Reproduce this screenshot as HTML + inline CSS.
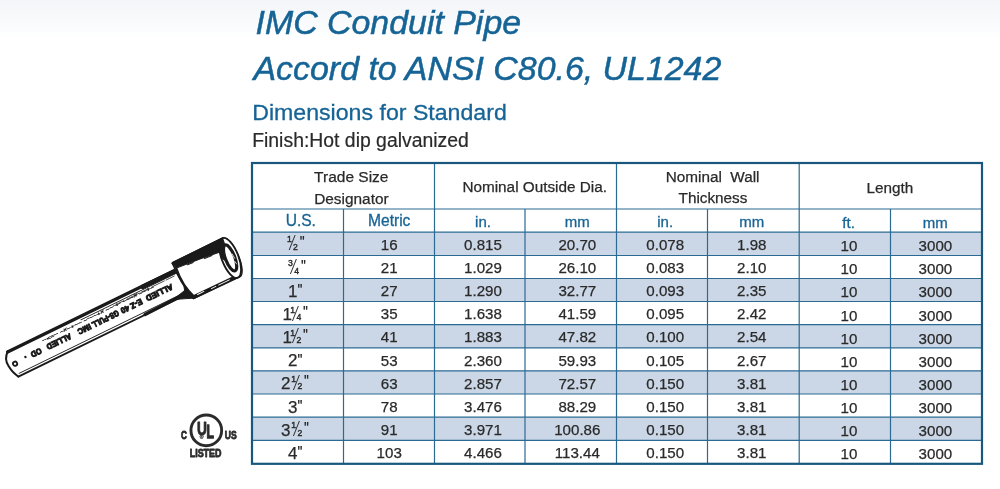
<!DOCTYPE html>
<html lang="en"><head><meta charset="utf-8"><title>IMC Conduit Pipe</title>
<style>
html,body{margin:0;padding:0;background:#fff;}
body{width:1000px;height:489px;overflow:hidden;position:relative;font-family:"Liberation Sans",sans-serif;}
svg{position:absolute;left:0;top:0;display:block}
text{font-family:"Liberation Sans",sans-serif;}
.t1{font-size:33.9px;font-style:italic;fill:#166496;stroke:#166496;stroke-width:0.5px}
.t2{font-size:22.5px;fill:#166496;stroke:#166496;stroke-width:0.3px}
.t3{font-size:19.4px;fill:#2a2a2a;stroke:#2a2a2a;stroke-width:0.2px}
.h{font-size:15.3px;fill:#2a2a2a;text-anchor:middle;stroke:#2a2a2a;stroke-width:0.25px}
.hb{font-size:15px;fill:#166496;text-anchor:middle;stroke:#1a6493;stroke-width:0.3px}
.d{font-size:15.1px;fill:#2a2a2a;text-anchor:middle;stroke:#2a2a2a;stroke-width:0.25px}
.u{font-size:17px;fill:#2a2a2a;stroke:#2a2a2a;stroke-width:0.25px}
.fn{font-size:8.6px;fill:#2a2a2a;stroke:#2a2a2a;stroke-width:0.4px}
.fs{font-size:22.3px;fill:#2a2a2a}
.q{font-size:15.2px;font-weight:bold;fill:#2a2a2a}
</style></head><body>
<svg width="1000" height="489" viewBox="0 0 1000 489">

<defs><linearGradient id="topgrad" x1="0" y1="0" x2="0" y2="1"><stop offset="0" stop-color="#f3f5f8"/><stop offset="0.55" stop-color="#f8fafc"/><stop offset="1" stop-color="#ffffff"/></linearGradient></defs>
<rect x="0" y="0" width="1000" height="38" fill="url(#topgrad)"/>
<text class="t1" x="255.5" y="34.3">IMC Conduit Pipe</text>
<text class="t1" x="253.5" y="80.2">Accord to ANSI C80.6, UL1242</text>
<text class="t2" x="252.2" y="120" textLength="254.6" lengthAdjust="spacingAndGlyphs">Dimensions for Standard</text>
<text class="t3" x="252.2" y="147">Finish:Hot dip galvanized</text>
<rect x="252" y="232.20" width="730" height="23.30" fill="#cbd7e6"/>
<rect x="252" y="278.50" width="730" height="23.00" fill="#cbd7e6"/>
<rect x="252" y="324.60" width="730" height="23.20" fill="#cbd7e6"/>
<rect x="252" y="370.90" width="730" height="23.10" fill="#cbd7e6"/>
<rect x="252" y="417.20" width="730" height="23.10" fill="#cbd7e6"/>
<line x1="252" y1="209.00" x2="982" y2="209.00" stroke="#2a6a93" stroke-width="1.2"/>
<line x1="252" y1="232.20" x2="982" y2="232.20" stroke="#2a6a93" stroke-width="1.2"/>
<line x1="252" y1="255.50" x2="982" y2="255.50" stroke="#2a6a93" stroke-width="1.2"/>
<line x1="252" y1="278.50" x2="982" y2="278.50" stroke="#2a6a93" stroke-width="1.2"/>
<line x1="252" y1="301.50" x2="982" y2="301.50" stroke="#2a6a93" stroke-width="1.2"/>
<line x1="252" y1="324.60" x2="982" y2="324.60" stroke="#2a6a93" stroke-width="1.2"/>
<line x1="252" y1="347.80" x2="982" y2="347.80" stroke="#2a6a93" stroke-width="1.2"/>
<line x1="252" y1="370.90" x2="982" y2="370.90" stroke="#2a6a93" stroke-width="1.2"/>
<line x1="252" y1="394.00" x2="982" y2="394.00" stroke="#2a6a93" stroke-width="1.2"/>
<line x1="252" y1="417.20" x2="982" y2="417.20" stroke="#2a6a93" stroke-width="1.2"/>
<line x1="252" y1="440.30" x2="982" y2="440.30" stroke="#2a6a93" stroke-width="1.2"/>
<line x1="343.5" y1="209.00" x2="343.5" y2="463.80" stroke="#2a6a93" stroke-width="1.2"/>
<line x1="434.5" y1="163.00" x2="434.5" y2="463.80" stroke="#2a6a93" stroke-width="1.2"/>
<line x1="525.0" y1="209.00" x2="525.0" y2="463.80" stroke="#2a6a93" stroke-width="1.2"/>
<line x1="616.5" y1="163.00" x2="616.5" y2="463.80" stroke="#2a6a93" stroke-width="1.2"/>
<line x1="707.5" y1="209.00" x2="707.5" y2="463.80" stroke="#2a6a93" stroke-width="1.2"/>
<line x1="799.2" y1="163.00" x2="799.2" y2="463.80" stroke="#2a6a93" stroke-width="1.2"/>
<line x1="890.5" y1="209.00" x2="890.5" y2="463.80" stroke="#2a6a93" stroke-width="1.2"/>
<rect x="252" y="163" width="730" height="300.80" fill="none" stroke="#18577e" stroke-width="2.2"/>
<text class="h" x="351.3" y="182" style="font-size:15.5px">Trade Size</text>
<text class="h" x="351.4" y="203.5" style="font-size:15.4px">Designator</text>
<text class="h" x="534.7" y="191.7">Nominal Outside Dia.</text>
<text class="h" x="712.6" y="181.5" xml:space="preserve">Nominal  Wall</text>
<text class="h" x="713" y="203">Thickness</text>
<text class="h" x="890" y="193">Length</text>
<text class="hb" style="font-size:15.6px" x="300.8" y="226">U.S.</text>
<text class="hb" style="font-size:15.6px" x="389.2" y="226">Metric</text>
<text class="hb" x="483.0" y="227">in.</text>
<text class="hb" x="577.3" y="227">mm</text>
<text class="hb" x="665.2" y="227">in.</text>
<text class="hb" x="751.8" y="227.4">mm</text>
<text class="hb" x="848.6" y="227.6">ft.</text>
<text class="hb" x="935.2" y="228.2">mm</text>
<text class="fn" x="286.9" y="242.4">1</text><text class="fs" transform="translate(291.50,250.30) scale(0.62,1)">&#x2044;</text><text class="fn" x="293.1" y="250.0">2</text><text class="q" transform="translate(299.45,246.06) scale(0.75,1)">&quot;</text>
<text class="d" x="389.2" y="249.9">16</text>
<text class="d" x="483.0" y="249.9">0.815</text>
<text class="d" x="577.3" y="249.9">20.70</text>
<text class="d" x="665.2" y="249.9">0.078</text>
<text class="d" x="751.8" y="249.9">1.98</text>
<text class="d" x="849.0" y="251.1">10</text>
<text class="d" x="935.4" y="251.1">3000</text>
<text class="fn" x="288.1" y="266.1">3</text><text class="fs" transform="translate(292.70,274.03) scale(0.62,1)">&#x2044;</text><text class="fn" x="294.3" y="273.7">4</text><text class="q" transform="translate(300.65,269.79) scale(0.75,1)">&quot;</text>
<text class="d" x="389.2" y="273.0">21</text>
<text class="d" x="483.0" y="273.0">1.029</text>
<text class="d" x="577.3" y="273.0">26.10</text>
<text class="d" x="665.2" y="273.0">0.083</text>
<text class="d" x="751.8" y="273.0">2.10</text>
<text class="d" x="849.0" y="274.2">10</text>
<text class="d" x="935.4" y="274.2">3000</text>
<text class="u" x="288.0" y="296.9">1</text><text class="q" transform="translate(297.25,294.12) scale(0.75,1)">&quot;</text>
<text class="d" x="389.2" y="296.2">27</text>
<text class="d" x="483.0" y="296.2">1.290</text>
<text class="d" x="577.3" y="296.2">32.77</text>
<text class="d" x="665.2" y="296.2">0.093</text>
<text class="d" x="751.8" y="296.2">2.35</text>
<text class="d" x="849.0" y="297.4">10</text>
<text class="d" x="935.4" y="297.4">3000</text>
<text class="u" x="282.4" y="320.0">1</text><text class="fn" x="290.2" y="312.8">1</text><text class="fs" transform="translate(294.80,320.69) scale(0.62,1)">&#x2044;</text><text class="fn" x="296.4" y="320.4">4</text><text class="q" transform="translate(302.75,316.45) scale(0.75,1)">&quot;</text>
<text class="d" x="389.2" y="319.3">35</text>
<text class="d" x="483.0" y="319.3">1.638</text>
<text class="d" x="577.3" y="319.3">41.59</text>
<text class="d" x="665.2" y="319.3">0.095</text>
<text class="d" x="751.8" y="319.3">2.42</text>
<text class="d" x="849.0" y="320.5">10</text>
<text class="d" x="935.4" y="320.5">3000</text>
<text class="u" x="282.4" y="343.1">1</text><text class="fn" x="290.2" y="335.5">1</text><text class="fs" transform="translate(294.80,343.42) scale(0.62,1)">&#x2044;</text><text class="fn" x="296.4" y="343.1">2</text><text class="q" transform="translate(302.75,339.18) scale(0.75,1)">&quot;</text>
<text class="d" x="389.2" y="342.4">41</text>
<text class="d" x="483.0" y="342.4">1.883</text>
<text class="d" x="577.3" y="342.4">47.82</text>
<text class="d" x="665.2" y="342.4">0.100</text>
<text class="d" x="751.8" y="342.4">2.54</text>
<text class="d" x="849.0" y="343.6">10</text>
<text class="d" x="935.4" y="343.6">3000</text>
<text class="u" x="288.0" y="366.2">2</text><text class="q" transform="translate(297.25,363.51) scale(0.75,1)">&quot;</text>
<text class="d" x="389.2" y="365.5">53</text>
<text class="d" x="483.0" y="365.5">2.360</text>
<text class="d" x="577.3" y="365.5">59.93</text>
<text class="d" x="665.2" y="365.5">0.105</text>
<text class="d" x="751.8" y="365.5">2.67</text>
<text class="d" x="849.0" y="366.7">10</text>
<text class="d" x="935.4" y="366.7">3000</text>
<text class="u" x="281.1" y="389.4">2</text><text class="fn" x="291.2" y="381.8">1</text><text class="fs" transform="translate(295.80,389.68) scale(0.62,1)">&#x2044;</text><text class="fn" x="297.4" y="389.4">2</text><text class="q" transform="translate(303.75,385.44) scale(0.75,1)">&quot;</text>
<text class="d" x="389.2" y="388.7">63</text>
<text class="d" x="483.0" y="388.7">2.857</text>
<text class="d" x="577.3" y="388.7">72.57</text>
<text class="d" x="665.2" y="388.7">0.150</text>
<text class="d" x="751.8" y="388.7">3.81</text>
<text class="d" x="849.0" y="389.9">10</text>
<text class="d" x="935.4" y="389.9">3000</text>
<text class="u" x="288.0" y="412.5">3</text><text class="q" transform="translate(297.25,409.77) scale(0.75,1)">&quot;</text>
<text class="d" x="389.2" y="411.8">78</text>
<text class="d" x="483.0" y="411.8">3.476</text>
<text class="d" x="577.3" y="411.8">88.29</text>
<text class="d" x="665.2" y="411.8">0.150</text>
<text class="d" x="751.8" y="411.8">3.81</text>
<text class="d" x="849.0" y="413.0">10</text>
<text class="d" x="935.4" y="413.0">3000</text>
<text class="u" x="281.1" y="435.6">3</text><text class="fn" x="291.2" y="428.0">1</text><text class="fs" transform="translate(295.80,435.94) scale(0.62,1)">&#x2044;</text><text class="fn" x="297.4" y="435.6">2</text><text class="q" transform="translate(303.75,431.70) scale(0.75,1)">&quot;</text>
<text class="d" x="389.2" y="434.9">91</text>
<text class="d" x="483.0" y="434.9">3.971</text>
<text class="d" x="577.3" y="434.9">100.86</text>
<text class="d" x="665.2" y="434.9">0.150</text>
<text class="d" x="751.8" y="434.9">3.81</text>
<text class="d" x="849.0" y="436.1">10</text>
<text class="d" x="935.4" y="436.1">3000</text>
<text class="u" x="288.0" y="458.8">4</text><text class="q" transform="translate(297.25,456.03) scale(0.75,1)">&quot;</text>
<text class="d" x="389.2" y="458.1">103</text>
<text class="d" x="483.0" y="458.1">4.466</text>
<text class="d" x="577.3" y="458.1">113.44</text>
<text class="d" x="665.2" y="458.1">0.150</text>
<text class="d" x="751.8" y="458.1">3.81</text>
<text class="d" x="849.0" y="459.3">10</text>
<text class="d" x="935.4" y="459.3">3000</text>
<g transform="translate(13.3,363.7) rotate(-26)" fill="none" stroke="#1a1a1a" stroke-linecap="round" stroke-linejoin="round">
<path d="M0,-14 L188,-14 L188,14 L-1,14 Q-6,6 -5.5,0 Q-6,-8 0,-14 Z" fill="#fff" stroke="none"/>
<path d="M0,-13.1 L188,-13.1" stroke-width="3.3"/>
<path d="M80,-9.8 L187,-9.8" stroke-width="0.9"/>
<path d="M118,-8.2 L186,-8.2" stroke-width="0.7" stroke-dasharray="9 3 14 2"/>
<path d="M1,11.2 L189,11.2" stroke-width="0.9"/>
<path d="M-1,13.8 L189,13.8" stroke-width="1.9"/>
<path d="M140,13.5 L189,12.4" stroke-width="3.4"/>
<path d="M150,-12.4 L188,-12" stroke-width="4.6"/>
<path d="M0.5,-13.6 Q-6.5,-8 -5.3,0 Q-4.6,8 -1,13.8" stroke-width="2"/>
<circle cx="1.6" cy="0.8" r="2.1" stroke-width="1.8"/>
<g fill="#1a1a1a" font-family="Liberation Sans, sans-serif" font-weight="bold" font-size="8.2" stroke-width="1.0">
<text transform="translate(177,-2.7) rotate(180)" textLength="29" lengthAdjust="spacingAndGlyphs">ALLIED</text>
<text transform="translate(143,-2.7) rotate(180)" textLength="23" lengthAdjust="spacingAndGlyphs">E-Z 40</text>
<text transform="translate(117,-2.7) rotate(180)" textLength="29" lengthAdjust="spacingAndGlyphs">GS-PULL</text>
<text transform="translate(86,-2.7) rotate(180)" textLength="14" lengthAdjust="spacingAndGlyphs">IMC</text>
<text transform="translate(64,-2.7) rotate(180)" textLength="26.5" lengthAdjust="spacingAndGlyphs">ALLIED</text>
<text transform="translate(31,-2.7) rotate(180)" textLength="11" lengthAdjust="spacingAndGlyphs">OD</text>
<text transform="translate(15,-3.4) rotate(180)">·</text>
<text transform="translate(160,-9) rotate(180)" font-size="4.6" font-weight="normal" font-style="italic" stroke-width="0.3" textLength="124" lengthAdjust="spacingAndGlyphs" xml:space="preserve">~+~~ x~~~ -+-~~ x+~~-~ ~~+~x~ --=&gt;--</text>
</g>
<path d="M187,-20 Q186,-21 188,-21 L241.5,-21.2 A8,21.2 0 0 1 241.5,21.2 L191,20.6 Q185,0 187,-20 Z" fill="#fff" stroke-width="1.4"/>
<path d="M186.6,-20.2 L188,-21.2 L241,-21.4 L236.4,-9.6 L215,-12.2 L188.5,-14.4 Z" fill="#1a1a1a" stroke-width="1"/>
<path d="M200,-12.6 L206,-12.2 M218,-10.8 L226,-10.2" stroke-width="1.1"/>
<path d="M188.2,-14.5 Q185.8,4 192,19.5" stroke-width="2.4"/>
<path d="M172,12.6 L192,20.6 L187.4,5 L186,9.5 Z" fill="#1a1a1a" stroke-width="1"/>
<path d="M191,19.2 L240.5,19.6" stroke-width="3.8"/>
<path d="M196,18.6 L203,18.6 M211,19.3 L216,19.3 M219,19.3 L231,19.3" stroke="#fff" stroke-width="0.9"/>
<g transform="rotate(5 241 0)">
<ellipse cx="241.3" cy="0" rx="8.4" ry="21.2" fill="#fff" stroke-width="1.9"/>
<path d="M241.3,-21.6 A8.4,21.6 0 0 0 233,-3 L237,2 L241,-14 Z" fill="#1a1a1a" stroke-width="1"/>
<ellipse cx="241.2" cy="0" rx="4.7" ry="13.8" fill="#fff" stroke-width="3.2"/>
<path d="M244.6,-3 L245.4,2 M244.4,5 L245.2,8" stroke="#fff" stroke-width="0.7"/>
</g>
</g>
<g fill="#2b2b2b" stroke="#2b2b2b" stroke-linejoin="round" font-family="Liberation Sans, sans-serif" font-weight="bold">
<circle cx="206.3" cy="430.4" r="15.35" fill="none" stroke-width="2.9"/>
<text transform="translate(196.9,434.7) scale(0.745,1)" font-size="18.4" stroke-width="0.95">U</text>
<text transform="translate(206.6,438) scale(0.665,1)" font-size="18.2" stroke-width="1.3">L</text>
<text x="201.5" y="439.1" font-size="5" text-anchor="middle" stroke-width="0.25" font-weight="normal">®</text>
<text transform="translate(181.1,438.5) scale(0.776,1)" font-size="10.6" stroke-width="0.8">C</text>
<text transform="translate(224.8,438.9) scale(0.808,1)" font-size="10.6" stroke-width="0.8">US</text>
<text transform="translate(189.7,457.2) scale(0.814,1)" font-size="11" stroke-width="0.8">LISTED</text>
</g>
</svg></body></html>
